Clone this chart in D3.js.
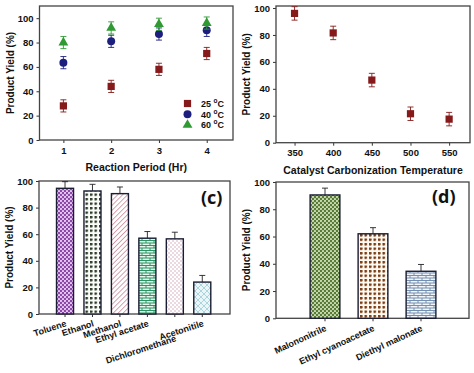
<!DOCTYPE html>
<html>
<head>
<meta charset="utf-8">
<script src="https://cdnjs.cloudflare.com/ajax/libs/d3/7.8.5/d3.min.js"></script>
<style>
  body { margin: 0; background: #fff; }
  text { font-family: "Liberation Sans", Arial, sans-serif; font-weight: bold; fill: #111; }
</style>
</head>
<body>
<div id="chart"></div>
<script>
// (a) yield vs reaction period
var periods = [1, 2, 3, 4];
var temps = ["25", "40", "60"];
var yield25 = [28, 44, 58, 71];
var yield40 = [63.5, 81, 87, 90];
var yield60 = [80, 92, 95, 96];
var errA = 5;

// (b) yield vs carbonization temperature
var carbTemps = [350, 400, 450, 500, 550];
var carbYield = [96, 81.5, 46.5, 21.5, 17.5];
var errB = 5;

// (c) solvents
var solvents = ["Toluene", "Ethanol", "Methanol", "Ethyl acetate", "Dichloromethane", "Acetonitile"];
var solventYield = [94.5, 92.5, 90.5, 57, 56.5, 24];
var solventErr = [5, 5, 5, 5, 5, 5];

// (d) active methylene compounds
var substrates = ["Malononitrile", "Ethyl cyanoacetate", "Diethyl malonate"];
var substrateYield = [90.5, 62, 34.5];
var substrateErr = [5, 4.5, 5];

var yTicks = [0, 20, 40, 60, 80, 100];

var svg = d3.select("#chart").append("svg")
  .attr("width", 474).attr("height", 373);
var defs = svg.append("defs");

// ---- fill patterns for the bars ----
function dotPattern(id, size, bg, dot, r, stagger) {
  var p = defs.append("pattern").attr("id", id).attr("patternUnits", "userSpaceOnUse")
    .attr("width", size).attr("height", size);
  p.append("rect").attr("width", size).attr("height", size).attr("fill", bg);
  p.append("circle").attr("cx", size / 4).attr("cy", size / 4).attr("r", r).attr("fill", dot);
  if (stagger) p.append("circle").attr("cx", size * 3 / 4).attr("cy", size * 3 / 4).attr("r", r).attr("fill", dot);
}
function brickPattern(id, bg, line) {
  var p = defs.append("pattern").attr("id", id).attr("patternUnits", "userSpaceOnUse")
    .attr("width", 8).attr("height", 5);
  p.append("rect").attr("width", 8).attr("height", 5).attr("fill", bg);
  p.append("path").attr("d", "M0,0.5H8M0,3H8M2,0.5V3M6,3V5")
    .attr("stroke", line).attr("stroke-width", 1).attr("fill", "none");
}
dotPattern("pToluene", 4, "#8d45ab", "#e8d2ef", 1.1, true);
dotPattern("pEthanol", 4.5, "#fbfdf8", "#2c3a28", 1.45, false);
var pm = defs.append("pattern").attr("id", "pMethanol").attr("patternUnits", "userSpaceOnUse")
  .attr("width", 3.5).attr("height", 3.5).attr("patternTransform", "rotate(45)");
pm.append("rect").attr("width", 3.5).attr("height", 3.5).attr("fill", "#fff");
pm.append("line").attr("x1", 0).attr("y1", 0).attr("x2", 0).attr("y2", 3.5)
  .attr("stroke", "#c06f85").attr("stroke-width", 1.3);
brickPattern("pEthylAc", "#e6f7ee", "#2a9462");
dotPattern("pDcm", 4, "#fff", "#c58ea8", 0.65, true);
var pa = defs.append("pattern").attr("id", "pAcn").attr("patternUnits", "userSpaceOnUse")
  .attr("width", 6).attr("height", 6);
pa.append("rect").attr("width", 6).attr("height", 6).attr("fill", "#eaf6f8");
pa.append("path").attr("d", "M0,0L6,6M6,0L0,6").attr("stroke", "#9ccbd4").attr("stroke-width", 0.8);
dotPattern("pMalono", 4, "#577a36", "#cfe0b8", 1.1, true);
dotPattern("pCyano", 4.5, "#fffaf2", "#7a3c12", 1.5, false);
brickPattern("pDiethyl", "#f2f6fa", "#7490b0");

var solventFills = ["pToluene", "pEthanol", "pMethanol", "pEthylAc", "pDcm", "pAcn"];
var substrateFills = ["pMalono", "pCyano", "pDiethyl"];

// ---- shared frame + axes ----
function frame(box, x, y, xTicks, xTitle) {
  var g = svg.append("g");
  var yAxis = d3.axisLeft(y).tickValues(yTicks).tickSize(3).tickPadding(3);
  g.append("g").attr("transform", "translate(" + box.x0 + ",0)").call(yAxis);
  if (xTicks) {
    var xAxis = d3.axisBottom(x).tickValues(xTicks).tickSize(3).tickPadding(4).tickFormat(d3.format("d"));
    g.append("g").attr("transform", "translate(0," + box.y1 + ")").call(xAxis);
  }
  g.selectAll(".domain").remove();
  g.selectAll(".tick line").attr("stroke", "#333");
  g.selectAll(".tick text").style("font-size", "9.5px").style("font-family", "Liberation Sans, Arial").style("font-weight", "bold").attr("fill", "#111");
  g.append("rect").attr("x", box.x0).attr("y", box.y0)
    .attr("width", box.x1 - box.x0).attr("height", box.y1 - box.y0)
    .attr("fill", "none").attr("stroke", "#444").attr("stroke-width", 1.3);
  g.append("text").attr("transform", "translate(" + (box.x0 - 26) + "," + ((box.y0 + box.y1) / 2) + ") rotate(-90)")
    .attr("text-anchor", "middle").style("font-size", "10px").text("Product Yield (%)");
  if (xTitle) {
    g.append("text").attr("x", (box.x0 + box.x1) / 2).attr("y", box.y1 + 31)
      .attr("text-anchor", "middle").style("font-size", "10.5px").text(xTitle);
  }
  return g;
}

function errorBar(g, cx, yTop, yBot, color) {
  g.append("line").attr("x1", cx).attr("x2", cx).attr("y1", yTop).attr("y2", yBot)
    .attr("stroke", color).attr("stroke-width", 0.9);
  g.append("line").attr("x1", cx - 3).attr("x2", cx + 3).attr("y1", yTop).attr("y2", yTop)
    .attr("stroke", color).attr("stroke-width", 0.9);
  g.append("line").attr("x1", cx - 3).attr("x2", cx + 3).attr("y1", yBot).attr("y2", yBot)
    .attr("stroke", color).attr("stroke-width", 0.9);
}

var symSquare = d3.symbol().type(d3.symbolSquare).size(52);
var symCircle = d3.symbol().type(d3.symbolCircle).size(50);
var symTri = d3.symbol().type(d3.symbolTriangle).size(42);

// ---- (a) ----
var boxA = { x0: 39.5, x1: 233, y0: 6, y1: 140 };
var xA = d3.scaleLinear().domain([0.5, 4.55]).range([boxA.x0, boxA.x1]);
var yA = d3.scaleLinear().domain([0, 110]).range([boxA.y1, boxA.y0]);
var gA = frame(boxA, xA, yA, periods, "Reaction Period (Hr)");
var seriesA = [
  { vals: yield25, color: "#861a1a", sym: symSquare },
  { vals: yield40, color: "#1c1f7e", sym: symCircle },
  { vals: yield60, color: "#2f9a32", sym: symTri }
];
seriesA.forEach(function(s) {
  s.vals.forEach(function(v, i) {
    errorBar(gA, xA(periods[i]), yA(v + errA), yA(v - errA), s.color);
  });
  gA.selectAll(null).data(s.vals).enter().append("path")
    .attr("d", s.sym)
    .attr("transform", function(d, i) { return "translate(" + xA(periods[i]) + "," + yA(d) + ")"; })
    .attr("fill", s.color);
});
// legend
seriesA.forEach(function(s, i) {
  var ly = 103.5 + i * 10.7;
  gA.append("path").attr("d", s.sym).attr("transform", "translate(187.5," + ly + ")").attr("fill", s.color);
  var t = gA.append("text").attr("x", 201).attr("y", ly + 3.5).style("font-size", "9px");
  t.append("tspan").text(temps[i] + " ");
  t.append("tspan").attr("dy", -4).style("font-size", "6.5px").text("o");
  t.append("tspan").attr("dy", 4).text("C");
});

// ---- (b) ----
var boxB = { x0: 276, x1: 470, y0: 6, y1: 142.7 };
var xB = d3.scaleLinear().domain([326, 577]).range([boxB.x0, boxB.x1]);
var yB = d3.scaleLinear().domain([0, 101.5]).range([boxB.y1, boxB.y0]);
var gB = frame(boxB, xB, yB, carbTemps, "Catalyst Carbonization Temperature");
carbYield.forEach(function(v, i) {
  errorBar(gB, xB(carbTemps[i]), yB(v + errB), yB(v - errB), "#861a1a");
});
gB.selectAll(null).data(carbYield).enter().append("path")
  .attr("d", symSquare)
  .attr("transform", function(d, i) { return "translate(" + xB(carbTemps[i]) + "," + yB(d) + ")"; })
  .attr("fill", "#861a1a");

// ---- bar panels ----
function barPanel(box, cats, vals, errs, fills, bandRange, pad, tag, tagX, tagY, angle, lblDy) {
  var x = d3.scaleBand().domain(cats).range(bandRange).paddingInner(pad).paddingOuter(pad / 2);
  var y = d3.scaleLinear().domain([0, 100]).range([box.y1, box.y0]);
  var g = frame(box, x, y, null, null);
  cats.forEach(function(c, i) {
    var cx = x(c) + x.bandwidth() / 2;
    g.append("line").attr("x1", cx).attr("x2", cx).attr("y1", y(vals[i])).attr("y2", y(vals[i] + errs[i]))
      .attr("stroke", "#222").attr("stroke-width", 0.9);
    g.append("line").attr("x1", cx - 3).attr("x2", cx + 3).attr("y1", y(vals[i] + errs[i])).attr("y2", y(vals[i] + errs[i]))
      .attr("stroke", "#222").attr("stroke-width", 0.9);
  });
  g.selectAll(null).data(vals).enter().append("rect")
    .attr("x", function(d, i) { return x(cats[i]); })
    .attr("y", function(d) { return y(d); })
    .attr("width", x.bandwidth())
    .attr("height", function(d) { return box.y1 - y(d); })
    .attr("fill", function(d, i) { return "url(#" + fills[i] + ")"; })
    .attr("stroke", "#1a1d33").attr("stroke-width", 1.4);
  // tick marks under bars
  cats.forEach(function(c) {
    var cx = x(c) + x.bandwidth() / 2;
    g.append("line").attr("x1", cx).attr("x2", cx).attr("y1", box.y1).attr("y2", box.y1 + 3).attr("stroke", "#333");
  });
  g.selectAll(null).data(cats).enter().append("text")
    .attr("text-anchor", "end")
    .style("font-size", "9px")
    .attr("transform", function(d, i) {
      var cx = x(d) + x.bandwidth() / 2 + 2;
      return "translate(" + cx + "," + (box.y1 + 12 + (lblDy[i] || 0)) + ") rotate(" + (-angle) + ")";
    })
    .text(function(d) { return d; });
  g.append("text").attr("x", tagX).attr("y", tagY)
    .style("font-family", "Open Sans, Liberation Sans, sans-serif").style("font-size", "18px").style("font-weight", "700")
    .text(tag);
}

barPanel({ x0: 39, x1: 230, y0: 181, y1: 314 }, solvents, solventYield, solventErr, solventFills,
  [51.3, 216], 0.38, "(c)", 201, 204, 18, [0, 0, 0, 0, 15, 0]);
barPanel({ x0: 276, x1: 469, y0: 182, y1: 318.3 }, substrates, substrateYield, substrateErr, substrateFills,
  [301, 445], 0.38, "(d)", 432, 203, 25, [0, 0, 0]);
</script>
</body>
</html>
